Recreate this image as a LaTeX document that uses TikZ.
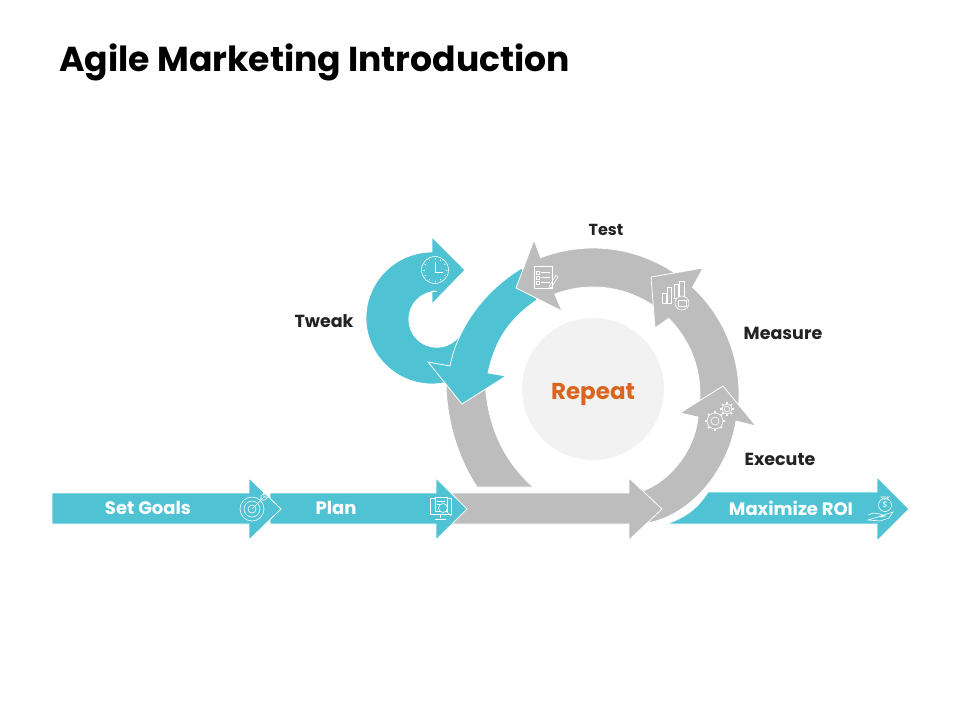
\documentclass[tikz,border=0pt]{standalone}
\usepackage{fontspec}
\setmainfont{Poppins}
\usetikzlibrary{calc}
\definecolor{agileblue}{HTML}{4FC3D4}
\definecolor{agilegray}{HTML}{BDBDBD}
\definecolor{agilecore}{HTML}{F2F2F2}
\definecolor{agileorange}{HTML}{D9661F}
\definecolor{agiletext}{HTML}{222222}
\tikzset{
	bluearrow/.style={fill=agileblue, draw=white, line width=0.8pt, line join=miter},
	grayarrow/.style={fill=agilegray, draw=white, line width=0.8pt, line join=miter},
	icon/.style={draw=white, line width=0.6pt, fill=none},
	steplabel/.style={text=agiletext, font=\bfseries\fontsize{17.5}{20}\selectfont},
	barlabel/.style={text=white, font=\bfseries\fontsize{18}{20}\selectfont},
}
\begin{document}
\begin{tikzpicture}[x=1pt, y=1pt, yscale=-1]
	\useasboundingbox (0,0) rectangle (960,720);
	\coordinate (ctr) at (593,394);

	\node[anchor=base west, inner sep=0pt, text=black, font=\bfseries\fontsize{34.6}{40}\selectfont](title) at (59,71) {Agile Marketing Introduction};

	\draw[bluearrow] (432,252) arc[start angle=-90, end angle=-290, radius=66pt] -- (460,335) arc[start angle=34, end angle=270, radius=28pt] -- (432,291) -- (432,304) -- (465,270) -- (432,237) -- cycle;
	\draw[grayarrow] (446,380) .. controls (446,420) and (458,458) .. (477,487) -- (533,487) .. controls (503,460) and (487,425) .. (485,380) -- cycle;
	\draw[bluearrow] (522,268) .. controls (482,292) and (457,330) .. (450,366) -- (428,362) -- (462,404) -- (506,376) -- (488,373) .. controls (495,340) and (510,318) .. (537,300) -- cycle;

	\draw[grayarrow] ($(ctr)+(-45:146pt)$) arc[start angle=-45, end angle=-111, radius=146pt] -- (534,240) -- (516,288) -- (562,311) -- ($(ctr)+(-111:107pt)$) arc[start angle=-111, end angle=-45, radius=107pt] -- cycle;
	\draw[grayarrow] ($(ctr)+(5:146pt)$) arc[start angle=5, end angle=-47, radius=146pt] -- (703,268) -- (651,277) -- (655,328) -- ($(ctr)+(-45:107pt)$) arc[start angle=-45, end angle=5, radius=107pt] -- cycle;
	\draw[grayarrow] (640,524) .. controls (688,520) and (728,472) .. (736,421) -- (756,426) -- (723,386) -- (680,413) -- (698,417) .. controls (695,450) and (670,482) .. (640,492) -- cycle;

	\draw[bluearrow] (666,524) .. controls (685,518) and (698,508) .. (708,492) -- (877,492) -- (877,477) -- (909,509) -- (877,541) -- (877,524) -- cycle;
	\draw[grayarrow] (450,493) -- (629,493) -- (629,478) -- (662,509) -- (629,540) -- (629,524) -- (450,524) -- cycle;
	\draw[bluearrow] (270,493) -- (436,493) -- (436,478) -- (467,509) -- (436,540) -- (436,524) -- (270,524) -- cycle;
	\draw[bluearrow] (52,493) -- (249,493) -- (249,478) -- (281,509) -- (249,540) -- (249,524) -- (52,524) -- cycle;

	\node[circle, fill=agilecore, minimum size=142pt, inner sep=0pt](core) at (593,389) {};
	\node[text=agileorange, font=\bfseries\fontsize{23}{26}\selectfont](repeat) at (593,394) {Repeat};

	\node[steplabel, font=\bfseries\fontsize{16}{20}\selectfont](test) at (606,230) {Test};
	\node[steplabel](tweak) at (324,321) {Tweak};
	\node[steplabel](measure) at (783,333) {Measure};
	\node[steplabel](execute) at (780,459) {Execute};
	\node[barlabel](setgoals) at (148,508) {Set Goals};
	\node[barlabel](plan) at (336,508) {Plan};
	\node[barlabel](roi) at (791,508) {Maximize ROI};

	\draw[icon] (435,270) circle (13.5pt);
	\draw[icon, line width=0.9pt] (435,262) -- (435,272) -- (443,272);
	\foreach \a in {0,30,...,330}
		\draw[icon] ($(435,270)+(\a:10.5pt)$) -- ($(435,270)+(\a:12pt)$);

	\foreach \r in {12,8,4}
		\draw[icon] (252,509) circle (\r pt);
	\draw[icon] (252,509) -- (264,497);
	\draw[icon] (261,496) -- (261,500) -- (265,500) -- (268,497) -- (264,497) -- (264,493) -- cycle;

	\draw[icon] (430,498) rectangle (451,514);
	\draw[icon, fill=agileblue] (435,497) rectangle (447,511);
	\draw[icon] (437,501) -- (445,501) (437,504) -- (442,504);
	\draw[icon, fill=agileblue] (443,508) circle (4.5pt);
	\draw[icon] (446,511) -- (451,516);
	\draw[icon] (440,514) -- (440,518) (435,519) -- (446,519);

	\draw[icon] (534,266) rectangle (552,288);
	\foreach \y in {272,277,282}{
		\draw[icon] (536,\y-1) rectangle (539,\y+2);
		\draw[icon] (541,\y) -- (550,\y);
	}
	\draw[icon] (549,287) -- (556,275) -- (558,277) -- (551,288) -- cycle;

	\draw[icon] (662,293) rectangle (666,303);
	\draw[icon] (667,287) rectangle (671,303);
	\draw[icon] (674,284) rectangle (678,298);
	\draw[icon] (679,281) rectangle (684,296);
	\draw[icon, fill=agilegray] (682,303) circle (7pt);
	\draw[icon] (678,300) rectangle (686,306);

	\foreach \x/\y/\s in {715/421/10,727/409/7}{
		\draw[icon] (\x,\y) circle (\s pt-2pt);
		\draw[icon] (\x,\y) circle (0.4*\s pt);
		\foreach \a in {0,45,...,315}
			\draw[icon, line width=1.4pt] ($(\x,\y)+(\a:\s pt-2pt)$) -- ($(\x,\y)+(\a:\s pt)$);
	}

	\draw[icon] (885,505) circle (6.5pt);
	\draw[icon] (881,497) -- (889,497) -- (887,499) -- (883,499) -- cycle;
	\node[text=white, inner sep=0pt, font=\fontsize{8}{8}\selectfont](dollar) at (885,505) {\$};
	\draw[icon] (868,515) -- (873,513) -- (880,514) -- (885,516) -- (880,517) (881,516) -- (893,512) -- (889,518) -- (880,521) -- (868,520) -- cycle;
\end{tikzpicture}
\end{document}
